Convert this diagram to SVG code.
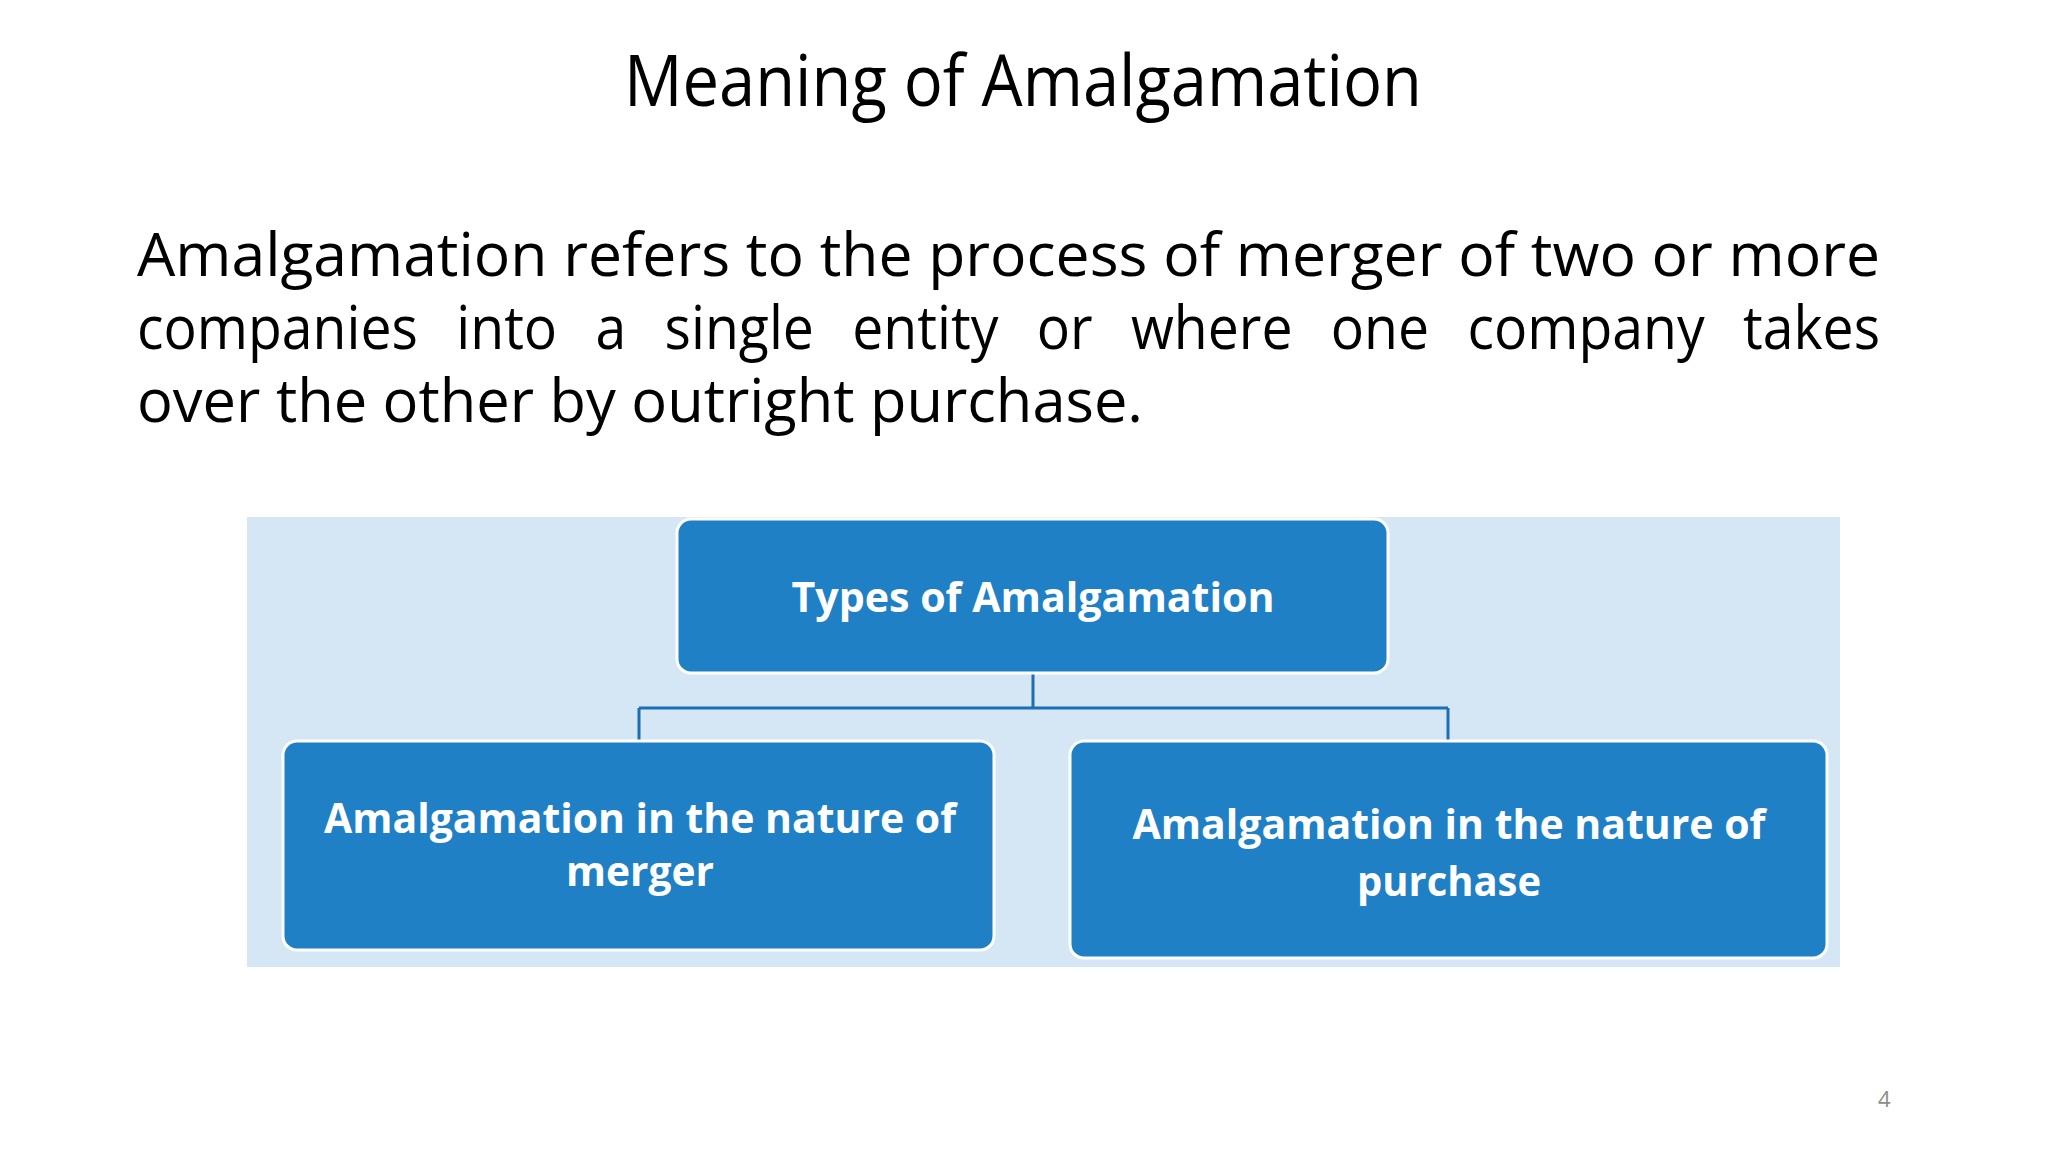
<svg xmlns="http://www.w3.org/2000/svg" width="2048" height="1152" viewBox="0 0 2048 1152">
<style>
.title{font-family:"Open Sans","Liberation Sans",sans-serif;font-size:72px;fill:#000}
.body{font-family:"Open Sans","Liberation Sans",sans-serif;font-size:60px;fill:#000}
.box{fill:#1F80C6;stroke:#FFFFFF;stroke-width:3}
.lbl{font-family:"Open Sans","Liberation Sans",sans-serif;font-size:42px;font-weight:bold;fill:#FFFFFF;text-anchor:middle}
.conn{fill:none;stroke:#1B6FB5;stroke-width:3}
.pg{font-family:"Open Sans","Liberation Sans",sans-serif;font-size:22px;fill:#8C8C8C}
</style>
<rect width="2048" height="1152" fill="#FFFFFF"/>
<text class="title" x="624" y="106" textLength="798" lengthAdjust="spacingAndGlyphs">Meaning of Amalgamation</text>
<text class="body" x="137" y="276" textLength="1743" lengthAdjust="spacingAndGlyphs">Amalgamation refers to the process of merger of two or more</text>
<text class="body" x="137" y="349" textLength="1743" lengthAdjust="spacingAndGlyphs" style="word-spacing:26px">companies into a single entity or where one company takes</text>
<text class="body" x="137" y="422" textLength="1006" lengthAdjust="spacingAndGlyphs">over the other by outright purchase.</text>
<rect x="247" y="517" width="1593" height="450" fill="#D5E7F5"/>
<g id="connectors">
<path class="conn" d="M1033 673 V708 M639 708 H1448 M639 708 V741 M1448 708 V741"/>
</g>
<g id="node-types">
<rect class="box" x="677" y="519" width="711" height="154" rx="14"/>
<text class="lbl" x="1033" y="612" textLength="483" lengthAdjust="spacingAndGlyphs">Types of Amalgamation</text>
</g>
<g id="node-merger">
<rect class="box" x="283" y="741" width="711" height="209" rx="14"/>
<text class="lbl" x="640" y="833" textLength="632" lengthAdjust="spacingAndGlyphs">Amalgamation in the nature of</text>
<text class="lbl" x="640" y="886" textLength="148" lengthAdjust="spacingAndGlyphs">merger</text>
</g>
<g id="node-purchase">
<rect class="box" x="1070" y="741" width="757" height="217" rx="14"/>
<text class="lbl" x="1449" y="839" textLength="633" lengthAdjust="spacingAndGlyphs">Amalgamation in the nature of</text>
<text class="lbl" x="1449" y="896" textLength="184" lengthAdjust="spacingAndGlyphs">purchase</text>
</g>
<text class="pg" x="1878" y="1107">4</text>
</svg>
